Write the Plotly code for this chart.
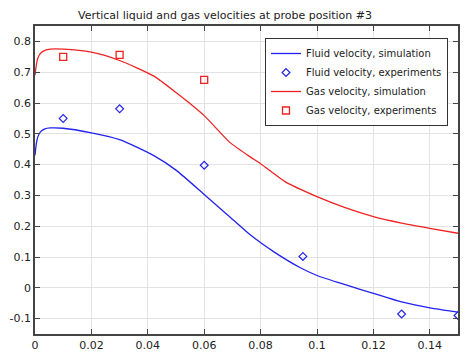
import plotly.graph_objects as go

# Simulation curves
fluid_sim_x = [0.0, 0.0005, 0.001, 0.002, 0.0035, 0.0054, 0.01, 0.02, 0.03, 0.042, 0.05, 0.06, 0.069, 0.0763, 0.085, 0.0941, 0.1, 0.11, 0.12, 0.13, 0.14, 0.15]
fluid_sim_y = [0.43, 0.47, 0.49, 0.507, 0.516, 0.519, 0.518, 0.503, 0.481, 0.43, 0.382, 0.303, 0.231, 0.172, 0.115, 0.065, 0.04, 0.01, -0.018, -0.046, -0.065, -0.079]

gas_sim_x = [0.0, 0.0005, 0.001, 0.002, 0.0035, 0.0054, 0.01, 0.02, 0.03, 0.042, 0.05, 0.06, 0.069, 0.0763, 0.08, 0.0888, 0.1, 0.11, 0.12, 0.13, 0.14, 0.15]
gas_sim_y = [0.69, 0.725, 0.745, 0.762, 0.771, 0.775, 0.775, 0.765, 0.738, 0.688, 0.634, 0.559, 0.473, 0.425, 0.403, 0.344, 0.296, 0.26, 0.231, 0.21, 0.193, 0.177]

# Experiments
fluid_exp_x = [0.01, 0.03, 0.06, 0.095, 0.13, 0.15]
fluid_exp_y = [0.55, 0.581, 0.398, 0.102, -0.085, -0.09]

gas_exp_x = [0.01, 0.03, 0.06]
gas_exp_y = [0.75, 0.756, 0.675]

x_ticks = [0, 0.02, 0.04, 0.06, 0.08, 0.1, 0.12, 0.14]
x_tick_labels = ["0", "0.02", "0.04", "0.06", "0.08", "0.1", "0.12", "0.14"]
y_ticks = [-0.1, 0, 0.1, 0.2, 0.3, 0.4, 0.5, 0.6, 0.7, 0.8]
y_tick_labels = ["-0.1", "0", "0.1", "0.2", "0.3", "0.4", "0.5", "0.6", "0.7", "0.8"]

BLUE = "#2222ee"
RED = "#ee2222"
FONT = "DejaVu Sans"

fig = go.Figure()
fig.add_trace(go.Scatter(x=fluid_sim_x, y=fluid_sim_y, mode="lines", name="Fluid velocity, simulation",
                         line=dict(color=BLUE, width=1.3, shape="spline", smoothing=0.6)))
fig.add_trace(go.Scatter(x=fluid_exp_x, y=fluid_exp_y, mode="markers", name="Fluid velocity, experiments",
                         marker=dict(symbol="diamond-open", size=6, color=BLUE, line=dict(width=1.2))))
fig.add_trace(go.Scatter(x=gas_sim_x, y=gas_sim_y, mode="lines", name="Gas velocity, simulation",
                         line=dict(color=RED, width=1.3, shape="spline", smoothing=0.6)))
fig.add_trace(go.Scatter(x=gas_exp_x, y=gas_exp_y, mode="markers", name="Gas velocity, experiments",
                         marker=dict(symbol="square-open", size=7, color=RED, line=dict(width=1.3))))

axis_common = dict(
    showline=True, linecolor="#444444", linewidth=1.5, mirror="ticks",
    ticks="inside", ticklen=5, tickcolor="#444444", tickwidth=1,
    showgrid=True, gridcolor="#e3e3e3", gridwidth=1, zeroline=False,
    automargin=False,
    tickfont=dict(family=FONT, size=11, color="#222222"),
)

fig.update_layout(
    width=474, height=357,
    margin=dict(l=35, r=16, t=26, b=23),
    paper_bgcolor="white", plot_bgcolor="white",
    title=dict(text="Vertical liquid and gas velocities at probe position #3",
               x=225/474, xanchor="center", y=1 - 15/357, yanchor="middle",
               font=dict(family=FONT, size=11, color="#222222")),
    font=dict(family=FONT, size=11, color="#222222"),
    showlegend=True,
    legend=dict(x=230/423, y=(334-38)/308, xanchor="left", yanchor="top",
                bgcolor="white", bordercolor="#333333", borderwidth=1,
                font=dict(family=FONT, size=10, color="#222222"),
                tracegroupgap=0),
    xaxis=dict(range=[0, 0.15], tickvals=x_ticks, ticktext=x_tick_labels, **axis_common),
    yaxis=dict(range=[-0.15, 0.85], tickvals=y_ticks, ticktext=y_tick_labels, **axis_common),
)

fig.write_html("out.html", config={"displayModeBar": False},
               post_script="document.body.style.margin='0px';document.body.style.padding='0px';")
